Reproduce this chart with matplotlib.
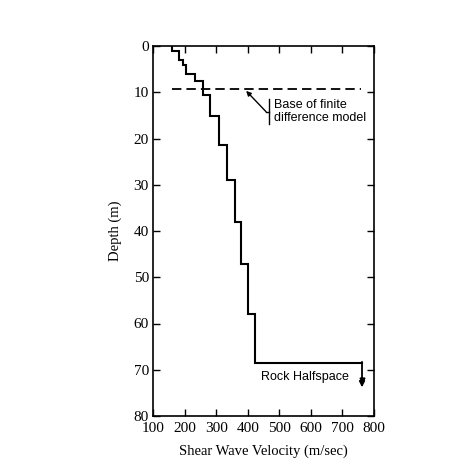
import matplotlib
matplotlib.use("Agg")
import matplotlib.pyplot as plt

# Velocity profile (step function): layer velocities and layer top depths
velocity = [160, 182, 194, 204, 234, 259, 282, 309, 335, 361, 380, 401, 423, 762]
layer_top = [0, 1.0, 3.0, 4.0, 6.0, 7.6, 10.6, 15.2, 21.3, 29.0, 38.0, 47.1, 58.0, 68.6]
halfspace_arrow_end = 73.8
fd_base_depth = 9.2
fd_base_v = [160, 758]

xticks = [100, 200, 300, 400, 500, 600, 700, 800]
yticks = [0, 10, 20, 30, 40, 50, 60, 70, 80]

fig = plt.figure(figsize=(4.74, 4.74), dpi=100)
ax = fig.add_axes([153/474, 1-416/474, (374-153)/474, (416-46)/474])

# build step path
xs, ys = [], []
for i, v in enumerate(velocity):
    top = layer_top[i]
    bot = layer_top[i+1] if i+1 < len(layer_top) else None
    xs.append(v); ys.append(top)
    if bot is not None:
        xs.append(v); ys.append(bot)
ax.plot(xs, ys, color="black", lw=1.5, solid_joinstyle="miter")
ax.annotate("", xy=(velocity[-1], halfspace_arrow_end), xytext=(velocity[-1], layer_top[-1]-0.3),
            arrowprops=dict(arrowstyle="-|>", color="black", lw=1.3, mutation_scale=8,
                            shrinkA=0, shrinkB=0))
ax.plot([velocity[-1]], [halfspace_arrow_end-1.6], marker="v", color="black", ms=3.5)

ax.plot(fd_base_v, [fd_base_depth]*2, color="black", lw=1.3, dashes=(5.2, 2.8))

# bracket annotation
ax.plot([468, 468], [11.5, 16.9], color="black", lw=1.0)
ax.plot([468, 458], [14.2, 14.2], color="black", lw=1.0)
ax.annotate("", xy=(395, 9.7), xytext=(458, 14.2),
            arrowprops=dict(arrowstyle="-|>", color="black", lw=1.0, mutation_scale=7,
                            shrinkA=0, shrinkB=0))
ax.text(482, 14.2, "Base of finite\ndifference model", family="Liberation Sans",
        fontsize=9, va="center", ha="left", linespacing=1.1)
ax.text(441, 71.5, "Rock Halfspace", family="Liberation Sans", fontsize=9,
        va="center", ha="left")

ax.set_xlim(100, 800)
ax.set_ylim(80, 0)
ax.set_xticks(xticks)
ax.set_yticks(yticks)
ax.tick_params(direction="in", top=True, right=True, length=5, width=1.0,
               labelsize=11)
ax.tick_params(axis="x", pad=4)
ax.tick_params(axis="y", pad=3)
for lab in ax.get_xticklabels() + ax.get_yticklabels():
    lab.set_family("Liberation Serif")
for s in ax.spines.values():
    s.set_linewidth(1.2)
ax.set_xlabel("Shear Wave Velocity (m/sec)", family="Liberation Serif", fontsize=10.5, labelpad=7)
ax.set_ylabel("Depth (m)", family="Liberation Serif", fontsize=10.5, labelpad=8)

fig.savefig("out.png", dpi=100)
